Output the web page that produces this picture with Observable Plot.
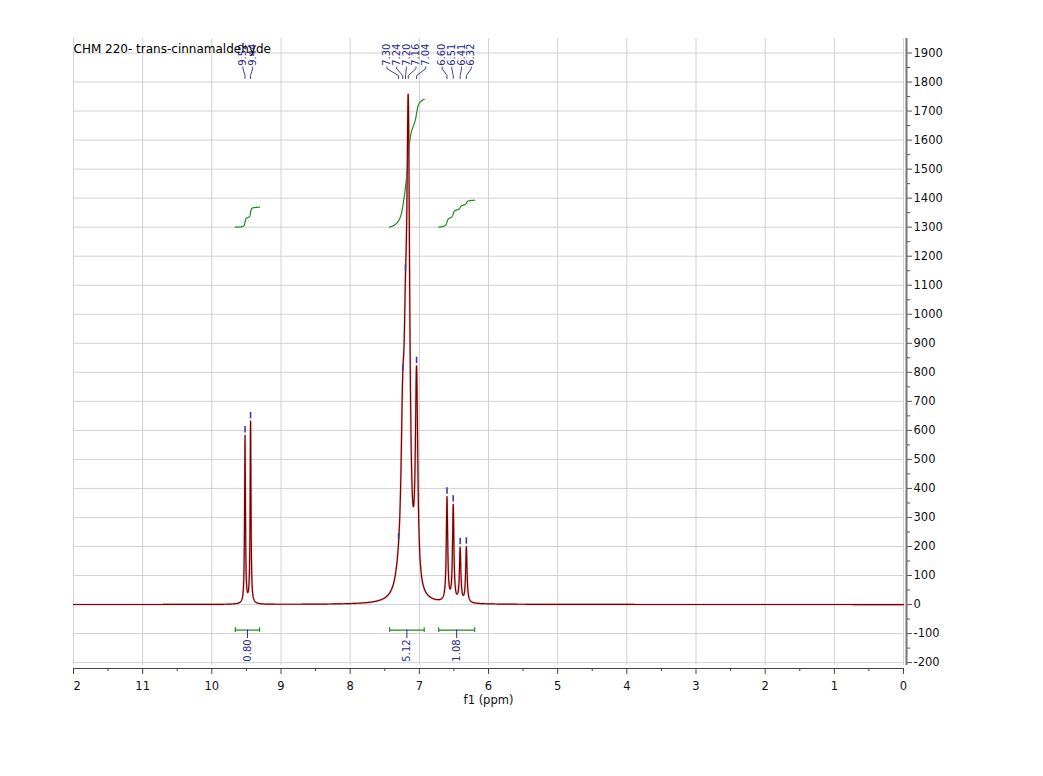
<!DOCTYPE html>
<html><head><meta charset="utf-8">
<script src="https://cdn.jsdelivr.net/npm/d3@7"></script>
<script src="https://cdn.jsdelivr.net/npm/@observablehq/plot@0.6"></script>
<style>
body{margin:0;background:#fff;}
#chart{position:absolute;left:73px;top:0;}
</style>
</head><body><div id="chart"></div>
<script>
// ---------- data ----------
const title = "CHM 220- trans-cinnamaldehyde";
const xLabel = "f1 (ppm)";
const peakPpm    = [9.52, 9.44, 7.30, 7.24, 7.20, 7.16, 7.04, 6.60, 6.51, 6.41, 6.32];
const peakLabels = ["9.52","9.44","7.30","7.24","7.20","7.16","7.04","6.60","6.51","6.41","6.32"];
const peakHeight = [583, 632, 215, 795, 1140, 1755, 822, 372, 345, 198, 200];
const peakWidth  = [0.0075, 0.0075, 0.06, 0.03, 0.025, 0.026, 0.021, 0.012, 0.012, 0.012, 0.012];
const peakGroup  = [0, 0, 1, 1, 1, 1, 1, 2, 2, 2, 2];
const unmarkedPeaks = ["7.16"];
const integralFrom  = [9.66, 7.43, 6.72];
const integralTo    = [9.31, 6.93, 6.20];
const integralValue = [0.80, 5.12, 1.08];
const xTicks = d3.range(0, 13);
const yTicks = d3.range(-200, 1901, 100);

// ---------- Lorentzian line shape; amplitudes solved so the curve passes through the read heights ----------
const lor = (x, c, g) => { const d = (x - c) / g; return 1 / (1 + d * d); };
function solve(A, b) {
  const n = b.length, m = A.map((r, i) => [...r, b[i]]);
  for (let k = 0; k < n; k++) {
    let p = k;
    for (let i = k + 1; i < n; i++) if (Math.abs(m[i][k]) > Math.abs(m[p][k])) p = i;
    [m[k], m[p]] = [m[p], m[k]];
    for (let i = k + 1; i < n; i++) { const f = m[i][k] / m[k][k]; for (let j = k; j <= n; j++) m[i][j] -= f * m[k][j]; }
  }
  const x = new Array(n).fill(0);
  for (let i = n - 1; i >= 0; i--) { let s = m[i][n]; for (let j = i + 1; j < n; j++) s -= m[i][j] * x[j]; x[i] = s / m[i][i]; }
  return x;
}
const amps = solve(peakPpm.map(xi => peakPpm.map((xj, j) => lor(xi, xj, peakWidth[j]))), peakHeight);
const S = p => amps.reduce((s, a, i) => s + a * lor(p, peakPpm[i], peakWidth[i]), 0);
const grid = d3.range(0, 12.0001, 0.002).concat(peakPpm).sort((a, b) => a - b);
const spectrum = grid.map(p => ({ppm: p, y: S(p)}));

// integral curves (cumulative area of the curve over each integrated region)
const integralCurves = [];
integralFrom.forEach((f, k) => {
  const t = integralTo[k];
  const pts = d3.range(f, t - 1e-9, -0.002);
  let cum = 0; const vals = [0];
  for (let i = 1; i < pts.length; i++) { cum += (S(pts[i - 1]) + S(pts[i])) / 2; vals.push(cum); }
  pts.forEach((p, i) => integralCurves.push({region: k, ppm: p, y: 1300 + vals[i] / cum * integralValue[k] * 86}));
});
const integrals = integralValue.map((v, k) => ({from: integralFrom[k], to: integralTo[k], mid: (integralFrom[k] + integralTo[k]) / 2, label: v.toFixed(2)}));

// peak label layout: labels spread evenly around their group's centre
const labelSpacing = 0.14;
const peaks = peakPpm.map((p, i) => ({ppm: p, label: peakLabels[i], h: peakHeight[i], g: peakGroup[i]}));
d3.groups(peaks, d => d.g).forEach(([, arr]) => {
  const c = d3.mean(arr, d => d.ppm), n = arr.length;
  arr.forEach((d, i) => d.lx = c + ((n - 1) / 2 - i) * labelSpacing);
});
const connectors = peaks.flatMap((d, i) => [
  {i, ppm: d.lx, y: 1852}, {i, ppm: d.lx, y: 1846}, {i, ppm: d.ppm, y: 1822}, {i, ppm: d.ppm, y: 1812}
]);
const marked = peaks.filter(d => !unmarkedPeaks.includes(d.label));

const blue = "#2a2a8a", green = "#1f8a1f", red = "#7a0000", grid_c = "#d2d2d2";
const fmt = d => String(d);

const chart = Plot.plot({
  width: 970, height: 720,
  marginLeft: 0, marginRight: 140, marginTop: 38, marginBottom: 55,
  x: {domain: [12, 0], label: null},
  y: {domain: [-210, 1950], label: null},
  style: {fontFamily: "DejaVu Sans", fontSize: "11.5px", color: "#111", background: "white", overflow: "hidden"},
  marks: [
    Plot.gridX(xTicks, {stroke: grid_c, strokeOpacity: 1}),
    Plot.gridY(yTicks, {stroke: grid_c, strokeOpacity: 1}),
    // integral curves
    Plot.line(integralCurves, {x: "ppm", y: "y", z: "region", stroke: green, strokeWidth: 1.2}),
    // spectrum
    Plot.line(spectrum, {x: "ppm", y: "y", stroke: "#e8a0a0", strokeWidth: 2.2, strokeOpacity: 0.6}),
    Plot.line(spectrum, {x: "ppm", y: "y", stroke: red, strokeWidth: 1.2}),
    // peak pick markers
    Plot.ruleX(marked, {x: "ppm", y1: d => d.h + 8, y2: d => d.h + 30, stroke: "#3a3aa8", strokeWidth: 1.6}),
    // peak labels & connectors
    Plot.line(connectors, {x: "ppm", y: "y", z: "i", stroke: blue, strokeWidth: 0.9, curve: "linear"}),
    Plot.text(peaks, {x: "lx", y: 1856, text: "label", rotate: -90, textAnchor: "start", fill: blue, fontSize: 10}),
    // integral bars
    Plot.ruleY(integrals, {y: -88, x1: "from", x2: "to", stroke: green, strokeWidth: 1.2}),
    Plot.ruleX(integrals, {x: "from", y1: -80, y2: -96, stroke: green, strokeWidth: 1.2}),
    Plot.ruleX(integrals, {x: "to", y1: -80, y2: -96, stroke: green, strokeWidth: 1.2}),
    Plot.ruleX(integrals, {x: "mid", y1: -88, y2: -117, stroke: blue, strokeWidth: 1}),
    Plot.text(integrals, {x: "mid", y: -120, text: "label", rotate: -90, textAnchor: "end", fill: blue, fontSize: 10}),
    // title
    Plot.text([title], {frameAnchor: "top-left", dy: 11, lineAnchor: "middle", fontSize: 12, fill: "#000"}),
    // x axis
    Plot.ruleY([-210], {dy: 3, stroke: "#444", strokeWidth: 1.2}),
    Plot.axisX({ticks: xTicks, tickFormat: fmt, tickSize: 6, dy: 3, tickPadding: 7, label: null, stroke: "#444", fontSize: 11.5}),
    Plot.axisX({ticks: d3.range(0.5, 12, 1), tickSize: 3, dy: 3, text: null, label: null, stroke: "#444"}),
    Plot.text([xLabel], {frameAnchor: "bottom", dy: 35, lineAnchor: "middle", fontSize: 11.5}),
    // right y axis
    Plot.ruleX([0], {dx: 3, stroke: "#777", strokeWidth: 2}),
    Plot.axisY({anchor: "right", ticks: yTicks, tickFormat: fmt, tickSize: 5, dx: 3, tickPadding: 2, label: null, stroke: "#555", fontSize: 11.5}),
    Plot.axisY({anchor: "right", ticks: d3.range(-150, 1900, 100), tickSize: 3, dx: 3, text: null, label: null, stroke: "#555"})
  ]
});
document.getElementById("chart").append(chart);
</script>
</body></html>
